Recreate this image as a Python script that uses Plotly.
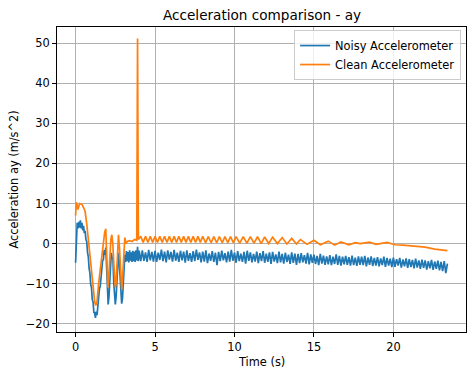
import plotly.graph_objects as go

# ---------------- data ----------------
noisy_time = [
    0.0, 0.05, 0.1, 0.15, 0.2, 0.25, 0.3, 0.35, 0.4, 0.45,
    0.5, 0.55, 0.6, 0.65, 0.7, 0.75, 0.8, 0.85, 0.9, 0.95,
    1.0, 1.05, 1.1, 1.15, 1.2, 1.25, 1.3, 1.35, 1.4, 1.45,
    1.5, 1.55, 1.6, 1.65, 1.7, 1.75, 1.8, 1.85, 1.9, 1.95,
    2.0, 2.05, 2.1, 2.15, 2.2, 2.25, 2.3, 2.35, 2.4, 2.45,
    2.5, 2.55, 2.6, 2.65, 2.7, 2.75, 2.8, 2.85, 2.9, 2.95,
    3.0, 3.05, 3.1, 3.15, 3.2, 3.25, 3.3, 3.35, 3.4, 3.45,
    3.5, 3.55, 3.6, 3.65, 3.7, 3.75, 3.8, 3.85, 3.9, 3.95,
    4.0, 4.1, 4.2, 4.3, 4.4, 4.5, 4.6, 4.7, 4.8, 4.9,
    5.0, 5.1, 5.2, 5.3, 5.4, 5.5, 5.6, 5.7, 5.8, 5.9,
    6.0, 6.1, 6.2, 6.3, 6.4, 6.5, 6.6, 6.7, 6.8, 6.9,
    7.0, 7.1, 7.2, 7.3, 7.4, 7.5, 7.6, 7.7, 7.8, 7.9,
    8.0, 8.1, 8.2, 8.3, 8.4, 8.5, 8.6, 8.7, 8.8, 8.9,
    9.0, 9.1, 9.2, 9.3, 9.4, 9.5, 9.6, 9.7, 9.8, 9.9,
    10.0, 10.1, 10.2, 10.3, 10.4, 10.5, 10.6, 10.7, 10.8, 10.9,
    11.0, 11.1, 11.2, 11.3, 11.4, 11.5, 11.6, 11.7, 11.8, 11.9,
    12.0, 12.1, 12.2, 12.3, 12.4, 12.5, 12.6, 12.7, 12.8, 12.9,
    13.0, 13.1, 13.2, 13.3, 13.4, 13.5, 13.6, 13.7, 13.8, 13.9,
    14.0, 14.1, 14.2, 14.3, 14.4, 14.5, 14.6, 14.7, 14.8, 14.9,
    15.0, 15.1, 15.2, 15.3, 15.4, 15.5, 15.6, 15.7, 15.8, 15.9,
    16.0, 16.1, 16.2, 16.3, 16.4, 16.5, 16.6, 16.7, 16.8, 16.9,
    17.0, 17.1, 17.2, 17.3, 17.4, 17.5, 17.6, 17.7, 17.8, 17.9,
    18.0, 18.1, 18.2, 18.3, 18.4, 18.5, 18.6, 18.7, 18.8, 18.9,
    19.0, 19.1, 19.2, 19.3, 19.4, 19.5, 19.6, 19.7, 19.8, 19.9,
    20.0, 20.1, 20.2, 20.3, 20.4, 20.5, 20.6, 20.7, 20.8, 20.9,
    21.0, 21.1, 21.2, 21.3, 21.4, 21.5, 21.6, 21.7, 21.8, 21.9,
    22.0, 22.1, 22.2, 22.3, 22.4, 22.5, 22.6, 22.7, 22.8, 22.9,
    23.0, 23.1, 23.2, 23.3, 23.4,
]
noisy_ay = [
    -4.8, 3.5, 5.2, 3.8, 5.4, 4.0, 5.8, 3.8, 5.2, 3.3,
    4.4, 2.6, 3.2, 1.0, 0.5, -2.2, -3.3, -6.2, -7.3, -10.2,
    -11.0, -14.0, -14.6, -17.2, -17.3, -18.6, -17.0, -17.9, -14.8, -14.2,
    -11.3, -10.7, -7.8, -7.4, -4.3, -4.0, -1.6, -2.8, -1.0, -5.7,
    -12.0, -15.2, -13.3, -8.2, -5.3, -2.3, -3.7, -3.8, -9.7, -11.8,
    -15.2, -13.3, -9.2, -4.8, -2.3, -4.7, -8.8, -12.7, -15.0, -13.8,
    -10.7, -4.8, -2.8, -4.6, -1.9, -4.4, -2.1, -4.7, -1.7, -4.3,
    -2.2, -4.6, -1.8, -4.4, -2.0, -4.6, -1.7, -4.2, -0.8, -4.4,
    -1.8, -4.4, -1.7, -4.3, -2.2, -4.6, -1.6, -4.2, -2.1, -4.5,
    -1.8, -4.6, -2.3, -4.1, -1.5, -4.4, -2.0, -4.7, -1.7, -4.0,
    -2.1, -4.5, -1.6, -4.3, -2.3, -4.6, -1.8, -4.2, -2.0, -4.8,
    -1.7, -4.3, -2.4, -4.6, -1.9, -4.4, -1.5, -4.1, -2.2, -4.7,
    -2.0, -4.5, -1.7, -4.9, -2.5, -4.3, -1.9, -4.6, -2.3, -5.4,
    -2.1, -4.4, -1.8, -4.2, -2.4, -4.7, -2.0, -4.5, -1.6, -4.3,
    -2.3, -4.8, -1.9, -4.4, -2.5, -4.6, -2.1, -5.0, -1.8, -4.3,
    -2.2, -4.7, -2.6, -4.5, -2.0, -4.9, -2.4, -4.4, -1.9, -4.8,
    -2.5, -4.6, -2.2, -5.1, -2.1, -4.5, -2.7, -4.9, -2.0, -4.7,
    -2.6, -5.0, -2.3, -4.6, -2.8, -5.1, -2.2, -4.8, -2.5, -5.3,
    -2.6, -4.9, -2.4, -4.7, -2.9, -5.0, -2.3, -5.2, -2.7, -4.8,
    -2.8, -5.1, -3.1, -5.4, -2.6, -5.0, -3.0, -5.3, -3.2, -5.2,
    -2.9, -5.4, -3.3, -5.1, -2.7, -5.3, -3.1, -5.5, -3.3, -5.2,
    -3.1, -5.3, -3.4, -5.5, -3.0, -5.4, -3.5, -5.6, -3.2, -5.3,
    -3.3, -5.4, -3.1, -5.7, -3.5, -5.3, -3.2, -5.6, -3.6, -5.5,
    -3.4, -5.7, -3.7, -5.4, -3.3, -5.8, -3.6, -5.5, -3.8, -5.9,
    -3.5, -5.8, -3.9, -5.5, -3.6, -6.0, -4.0, -5.7, -3.7, -6.1,
    -3.9, -5.9, -4.1, -6.2, -3.8, -6.0, -4.2, -6.3, -4.0, -6.1,
    -4.2, -6.5, -4.4, -6.2, -4.1, -6.6, -4.5, -6.3, -4.3, -6.7,
    -4.6, -6.9, -4.4, -7.4, -5.0,
]

clean_time = [
    0.0, 0.05, 0.1, 0.15, 0.25, 0.4, 0.5, 0.6, 0.7, 0.8,
    0.9, 1.0, 1.1, 1.2, 1.27, 1.35, 1.45, 1.55, 1.66, 1.75,
    1.83, 1.9, 1.96, 2.03, 2.08, 2.16, 2.22, 2.28, 2.34, 2.42,
    2.5, 2.55, 2.62, 2.7, 2.76, 2.83, 2.9, 2.95, 3.03, 3.1,
    3.17, 3.25, 3.4, 3.55, 3.7, 3.85, 3.9, 3.95,
    4.1, 4.25, 4.4, 4.55, 4.7, 4.85, 5.0, 5.15, 5.3, 5.45,
    5.6, 5.75, 5.9, 6.05, 6.2, 6.35, 6.5, 6.65, 6.8, 6.95,
    7.1, 7.25, 7.4, 7.55, 7.7, 7.85, 8.0,
    8.18, 8.35, 8.53, 8.7, 8.88, 9.05, 9.23, 9.4, 9.58, 9.75,
    9.93, 10.1,
    10.33, 10.55, 10.78, 11.0, 11.23, 11.45, 11.68, 11.9, 12.15,
    12.4, 12.7, 13.0, 13.3, 13.6, 13.9,
    14.15, 14.57, 15.0, 15.4, 15.9, 16.3, 16.7, 17.2, 17.6, 17.9,
    18.5, 18.9, 19.6, 20.1, 20.6, 21.4, 22.0, 22.6, 23.0, 23.4,
]
clean_ay = [
    7.0, 10.3, 9.5, 8.5, 10.0, 9.8, 9.0, 8.0, 5.0, 1.0,
    -3.0, -7.0, -11.0, -14.5, -15.5, -14.5, -10.0, -6.5, -3.4, 0.5,
    2.8, 3.7, -2.0, -11.0, -9.0, -3.0, 1.0, 2.2, 0.0, -6.0,
    -11.0, -10.0, -3.0, 2.2, -1.0, -7.0, -11.5, -9.0, -2.0, 1.5,
    0.0, 0.5, 0.7, 0.5, 1.0, 0.8, 51.2, 1.0,
    1.8, 0.3, 1.8, 0.3, 1.8, 0.3, 1.8, 0.3, 1.8, 0.3,
    1.8, 0.3, 1.8, 0.3, 1.8, 0.3, 1.8, 0.3, 1.8, 0.3,
    1.8, 0.3, 1.8, 0.3, 1.8, 0.3, 1.8,
    0.2, 1.75, 0.2, 1.75, 0.2, 1.75, 0.2, 1.75, 0.2, 1.75,
    0.2, 1.75,
    0.1, 1.7, 0.1, 1.7, 0.1, 1.7, 0.0, 1.65, 0.0,
    1.6, 0.0, 1.5, -0.1, 1.3, -0.1,
    1.0, -0.2, 0.8, -0.3, 0.6, -0.4, 0.4, -0.3, 0.2, 0.0,
    0.35, -0.2, 0.3, -0.3, -0.4, -0.6, -0.9, -1.4, -1.6, -1.75,
]

series_names = ["Noisy Accelerometer", "Clean Accelerometer"]
series_colors = ["#1f77b4", "#ff7f0e"]
x_ticks = [0, 5, 10, 15, 20]
y_ticks = [-20, -10, 0, 10, 20, 30, 40, 50]

FONT = "DejaVu Sans"
FS = 11.4

fig = go.Figure()
fig.add_trace(go.Scatter(x=noisy_time, y=noisy_ay, mode="lines",
                         name=series_names[0],
                         line=dict(color=series_colors[0], width=1.7)))
fig.add_trace(go.Scatter(x=clean_time, y=clean_ay, mode="lines",
                         name=series_names[1],
                         line=dict(color=series_colors[1], width=1.7)))

axis_common = dict(
    showline=True, linecolor="black", linewidth=0.9, mirror=True,
    showgrid=True, gridcolor="#b0b0b0", gridwidth=0.9,
    zeroline=False, ticks="outside", ticklen=4, tickwidth=0.9,
    tickcolor="black", tickfont=dict(family=FONT, size=FS, color="black"),
    automargin=False,
)

fig.update_layout(
    width=474, height=375,
    paper_bgcolor="white", plot_bgcolor="white",
    margin=dict(l=57, r=8, t=27, b=43),
    showlegend=True,
    legend=dict(x=0.988, y=0.99, xanchor="right", yanchor="top",
                bgcolor="rgba(255,255,255,0.8)", bordercolor="#cccccc",
                borderwidth=1, font=dict(family=FONT, size=FS, color="black"),
                tracegroupgap=0),
    xaxis=dict(range=[-1.17, 24.57], tickvals=x_ticks, **axis_common),
    yaxis=dict(range=[-22.1, 54.1], tickvals=y_ticks, **axis_common),
    annotations=[
        dict(text="Acceleration comparison - ay", xref="paper", yref="paper",
             x=0.5, y=1, xanchor="center", yanchor="middle", yshift=12,
             showarrow=False, font=dict(family=FONT, size=13.6, color="black")),
        dict(text="Time (s)", xref="paper", yref="paper",
             x=0.5, y=0, xanchor="center", yanchor="middle", yshift=-30,
             showarrow=False, font=dict(family=FONT, size=FS, color="black")),
        dict(text="Acceleration ay (m/s^2)", xref="paper", yref="paper",
             x=0, y=0.5, xanchor="center", yanchor="middle", xshift=-44,
             textangle=-90, showarrow=False,
             font=dict(family=FONT, size=FS, color="black")),
    ],
)

fig.write_html("out.html", config={"displayModeBar": False},
               post_script="document.body.style.margin='0';")
